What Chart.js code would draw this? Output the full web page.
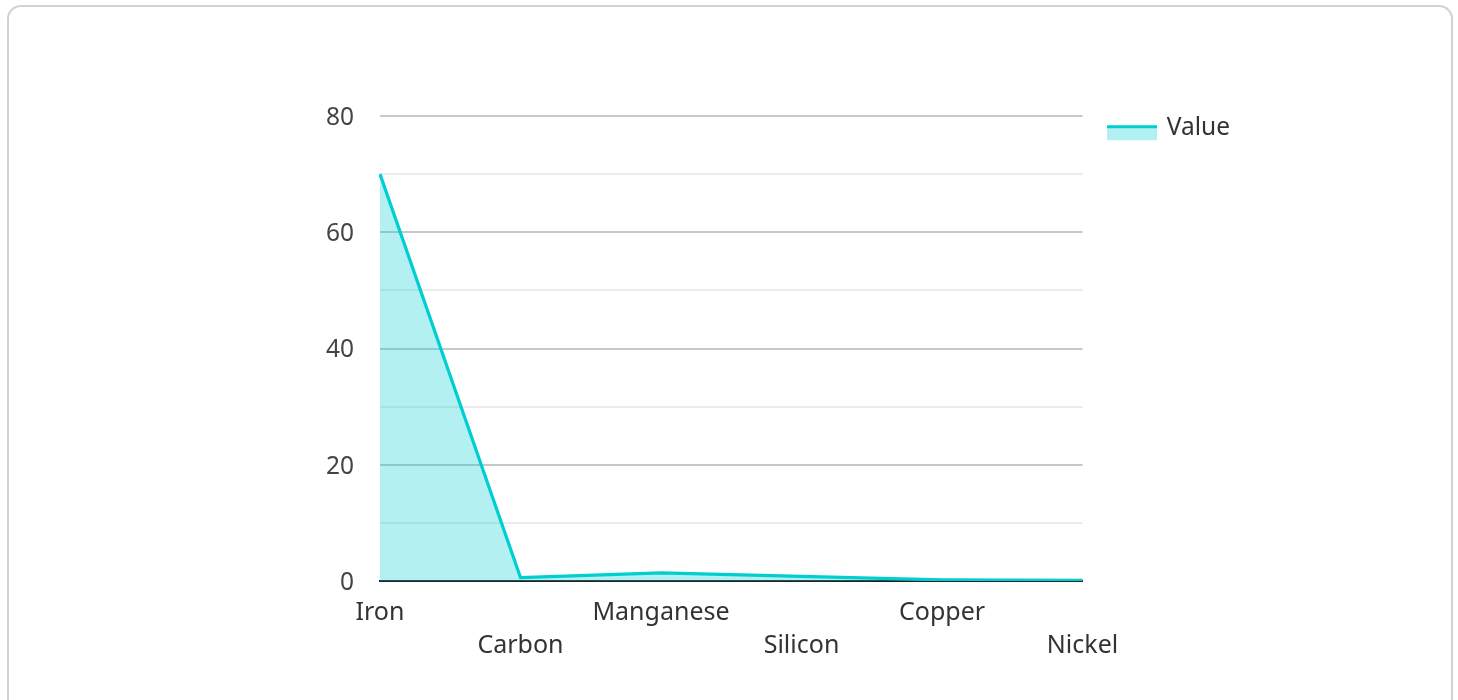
<!DOCTYPE html>
<html>
<head>
<meta charset="utf-8">
<script src="https://cdn.jsdelivr.net/npm/chart.js@4.4.1/dist/chart.umd.min.js"></script>
<style>
  html, body { margin: 0; padding: 0; background: #fff; }
  body { width: 1458px; height: 700px; position: relative; overflow: hidden; }
  .card { position: absolute; left: 7px; top: 5px; width: 1446px; height: 740px; box-sizing: border-box; border: 2px solid #d2d2d2; border-radius: 14px; }
  #myChart { position: absolute; left: 0; top: 0; }
</style>
</head>
<body>
<div class="card"></div>
<canvas id="myChart" width="1458" height="700"></canvas>
<script>
var categories = ['Iron', 'Carbon', 'Manganese', 'Silicon', 'Copper', 'Nickel'];
var values = [70, 0.6, 1.4, 0.8, 0.2, 0.1];
var yLabels = [0, 20, 40, 60, 80];

var teal = 'rgb(0, 206, 209)';
var tealFill = 'rgba(0, 206, 209, 0.3)';

// legend swatch: thick line on top, light fill below
function makeSwatch() {
  var c = document.createElement('canvas');
  c.width = 77;
  c.height = 30;
  var g = c.getContext('2d');
  g.fillStyle = tealFill;
  g.fillRect(27, 15, 50, 12);
  g.fillStyle = teal;
  g.fillRect(27, 12, 50, 3);
  return c;
}

function init() {
  var ctx = document.getElementById('myChart').getContext('2d');
  var myChart = new Chart(ctx, {
    type: 'line',
    data: {
      labels: categories,
      datasets: [{
        label: 'Value',
        data: values,
        borderColor: teal,
        backgroundColor: tealFill,
        borderWidth: 3.2,
        fill: 'origin',
        tension: 0,
        pointRadius: 0,
        pointHoverRadius: 0,
        pointStyle: makeSwatch()
      }]
    },
    options: {
      responsive: false,
      devicePixelRatio: 1,
      animation: false,
      layout: {
        padding: { left: 300, top: 116, right: 218, bottom: 39 }
      },
      plugins: {
        tooltip: { enabled: false },
        legend: {
          position: 'right',
          align: 'start',
          fullSize: false,
          labels: {
            usePointStyle: true,
            pointStyleWidth: 72,
            padding: 0,
            color: '#333',
            font: { family: 'Noto Sans', size: 24.5 }
          }
        }
      },
      scales: {
        x: {
          offset: false,
          afterFit: function(s) { s.height = 80; },
          border: { color: '#222', width: 2 },
          grid: { display: false },
          ticks: {
            autoSkip: false,
            maxRotation: 0,
            padding: 7,
            color: '#333',
            font: { family: 'Noto Sans', size: 25, lineHeight: 1.32 },
            callback: function(v, i) {
              var l = this.getLabelForValue(v);
              return i % 2 ? ['', l] : [l, ''];
            }
          }
        },
        y: {
          min: 0,
          max: 80,
          afterFit: function(s) { s.width = 80; },
          border: { display: false },
          grid: {
            drawTicks: false,
            lineWidth: 2,
            color: function(c) {
              if (!c.tick) return '#c8c8c8';
              return c.tick.value % 20 === 0 ? '#c8c8c8' : '#ebebeb';
            }
          },
          ticks: {
            stepSize: 10,
            padding: 26,
            labelOffset: 2,
            color: '#444',
            font: { family: 'Noto Sans', size: 24.5 },
            callback: function(v) {
              return yLabels.indexOf(v) >= 0 ? v : '';
            }
          }
        }
      }
    }
  });
}

init();
</script>
</body>
</html>
